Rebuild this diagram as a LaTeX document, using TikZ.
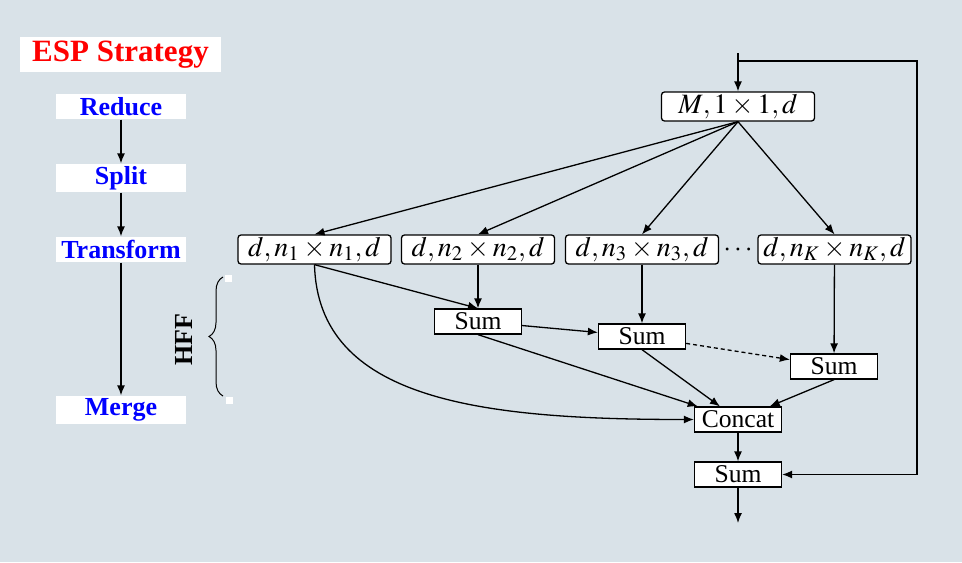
\documentclass[tikz,border=0pt]{standalone}
\usepackage{mathptmx}
\usepackage{fontspec}
\setmainfont{Liberation Serif}
\usetikzlibrary{arrows.meta,decorations.pathreplacing}
\definecolor{bg}{RGB}{217,226,232}
\begin{document}
\begin{tikzpicture}[x=0.5pt,y=-0.5pt, line width=0.65pt, >={Latex[length=5pt,width=4pt]},
  lab/.style={fill=white, inner sep=0pt, minimum width=65pt, font=\fontsize{13}{15}\selectfont\bfseries, text=blue},
  mbox/.style={draw, fill=white, rounded corners=1.5pt, inner sep=0pt, minimum width=76.5pt, minimum height=14.5pt, font=\fontsize{14}{16}\selectfont},
  sbox/.style={draw, fill=white, inner sep=0pt, minimum width=43.5pt, minimum height=12.5pt, font=\fontsize{12.8}{14}\selectfont}]
\path[fill=bg] (0,0) rectangle (962,562);
\useasboundingbox (0,0) rectangle (962,562);
% left column
\node[fill=white, inner sep=0pt, minimum width=100.5pt, minimum height=17.5pt, text=red, font=\fontsize{15.5}{17}\selectfont\bfseries] (esp) at (120.5,54.5) {ESP Strategy};
\node[lab, minimum height=12.5pt] (reduce) at (121,106.5) {Reduce};
\node[lab, minimum height=14pt] (split) at (121,178) {Split};
\node[lab, minimum height=12.5pt] (transform) at (121,249.5) {Transform};
\node[lab, minimum height=14pt] (merge) at (121,410) {Merge};
\draw[->] (reduce) -- (split);
\draw[->] (split) -- (transform);
\draw[->] (transform) -- (merge);
% brace
\coordinate (br1) at (223,396);
\coordinate (br2) at (223,277);
\draw[decorate, decoration={brace, amplitude=7pt}, line width=0.5pt] (br1) -- (br2);
\fill[white] (225,275) rectangle (232,282);
\fill[white] (226,397) rectangle (233,404);
\node[rotate=90, inner sep=0pt, font=\fontsize{13}{15}\selectfont\bfseries] (hff) at (184,340) {HFF};
% right diagram
\node[mbox] (top) at (738,106.5) {$M,1\times 1,d$};
\node[mbox] (b1) at (314.5,249.5) {$d,n_1\times n_1,d$};
\node[mbox] (b2) at (478,249.5) {$d,n_2\times n_2,d$};
\node[mbox] (b3) at (642,249.5) {$d,n_3\times n_3,d$};
\node[mbox] (bK) at (834.5,249.5) {$d,n_K\times n_K,d$};
\node[inner sep=0pt, font=\fontsize{14}{16}\selectfont] (dots) at (738,250) {$\cdots$};
\node[sbox] (s1) at (478,321.5) {Sum};
\node[sbox] (s2) at (642,336.5) {Sum};
\node[sbox] (s3) at (834,366.5) {Sum};
\node[sbox] (concat) at (738,419.5) {Concat};
\node[sbox] (sF) at (738,474.5) {Sum};
\coordinate (in) at (738,53);
\coordinate (fb) at (738,61);
\coordinate (fr1) at (917,61);
\coordinate (fr2) at (917,474.5);
\coordinate (out) at (738,523);
\draw[->] (in) -- (top);
\draw[->] (fb) -- (fr1) -- (fr2) -- (sF.east);
\foreach \b in {b1,b2,b3,bK} \draw[->] (top.south) -- (\b.north);
\draw[->] (b1.south) -- (s1.north);
\draw[->] (b2) -- (s1);
\draw[->] (b3) -- (s2);
\draw[->] (bK) -- (s3);
\draw[->] (s1) -- (s2);
\draw[->, dash pattern=on 2pt off 1.5pt] (s2) -- (s3);
\draw[->] (s1.south) -- (concat);
\draw[->] (s2.south) -- (concat);
\draw[->] (s3.south) -- (concat);
\draw[->] (b1.south) .. controls (318,400) and (480,419.5) .. (concat.west);
\draw[->] (concat) -- (sF);
\draw[->] (sF) -- (out);
\end{tikzpicture}
\end{document}
